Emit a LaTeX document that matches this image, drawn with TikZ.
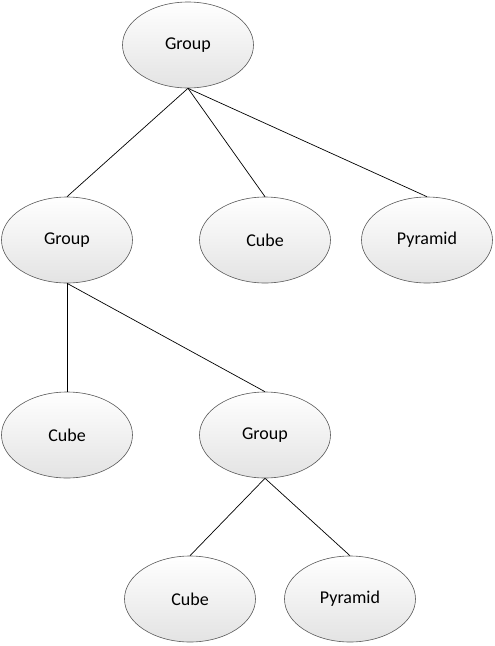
\documentclass[tikz,border=0pt]{standalone}
\usepackage{fontspec}
\setmainfont{Carlito}
\usetikzlibrary{shapes.geometric}

\tikzset{
  treenode/.style={ellipse, draw=black!65, line width=0.6pt,
    top color=white, bottom color=black!11, minimum width=131pt,
    minimum height=86pt, inner sep=0pt, font=\fontsize{18}{21}\selectfont},
  treeline/.style={draw=black, line width=0.7pt}
}

\begin{document}
\begin{tikzpicture}[x=1pt,y=-1pt]
      \useasboundingbox (0,0) rectangle (495,646);
      % first level
      \node[treenode] (rootGroup) at (188,45) {Group};
      % second level
      \node[treenode] (midGroup) at (67,240) {Group};
      \node[treenode] (midCube) at (265,240) {Cube};
      \node[treenode] (midPyramid) at (427,240) {Pyramid};
      % third level
      \node[treenode] (lowCube) at (67,435) {Cube};
      \node[treenode] (lowGroup) at (265,435) {Group};
      % fourth level
      \node[treenode] (leafCube) at (190,599) {Cube};
      \node[treenode] (leafPyramid) at (350,599) {Pyramid};

      \draw[treeline] (rootGroup.south) -- (midGroup.north);
      \draw[treeline] (rootGroup.south) -- (midCube.north);
      \draw[treeline] (rootGroup.south) -- (midPyramid.north);
      \draw[treeline] (midGroup.south) -- (lowCube.north);
      \draw[treeline] (midGroup.south) -- (lowGroup.north);
      \draw[treeline] (lowGroup.south) -- (leafCube.north);
      \draw[treeline] (lowGroup.south) -- (leafPyramid.north);
\end{tikzpicture}
\end{document}
